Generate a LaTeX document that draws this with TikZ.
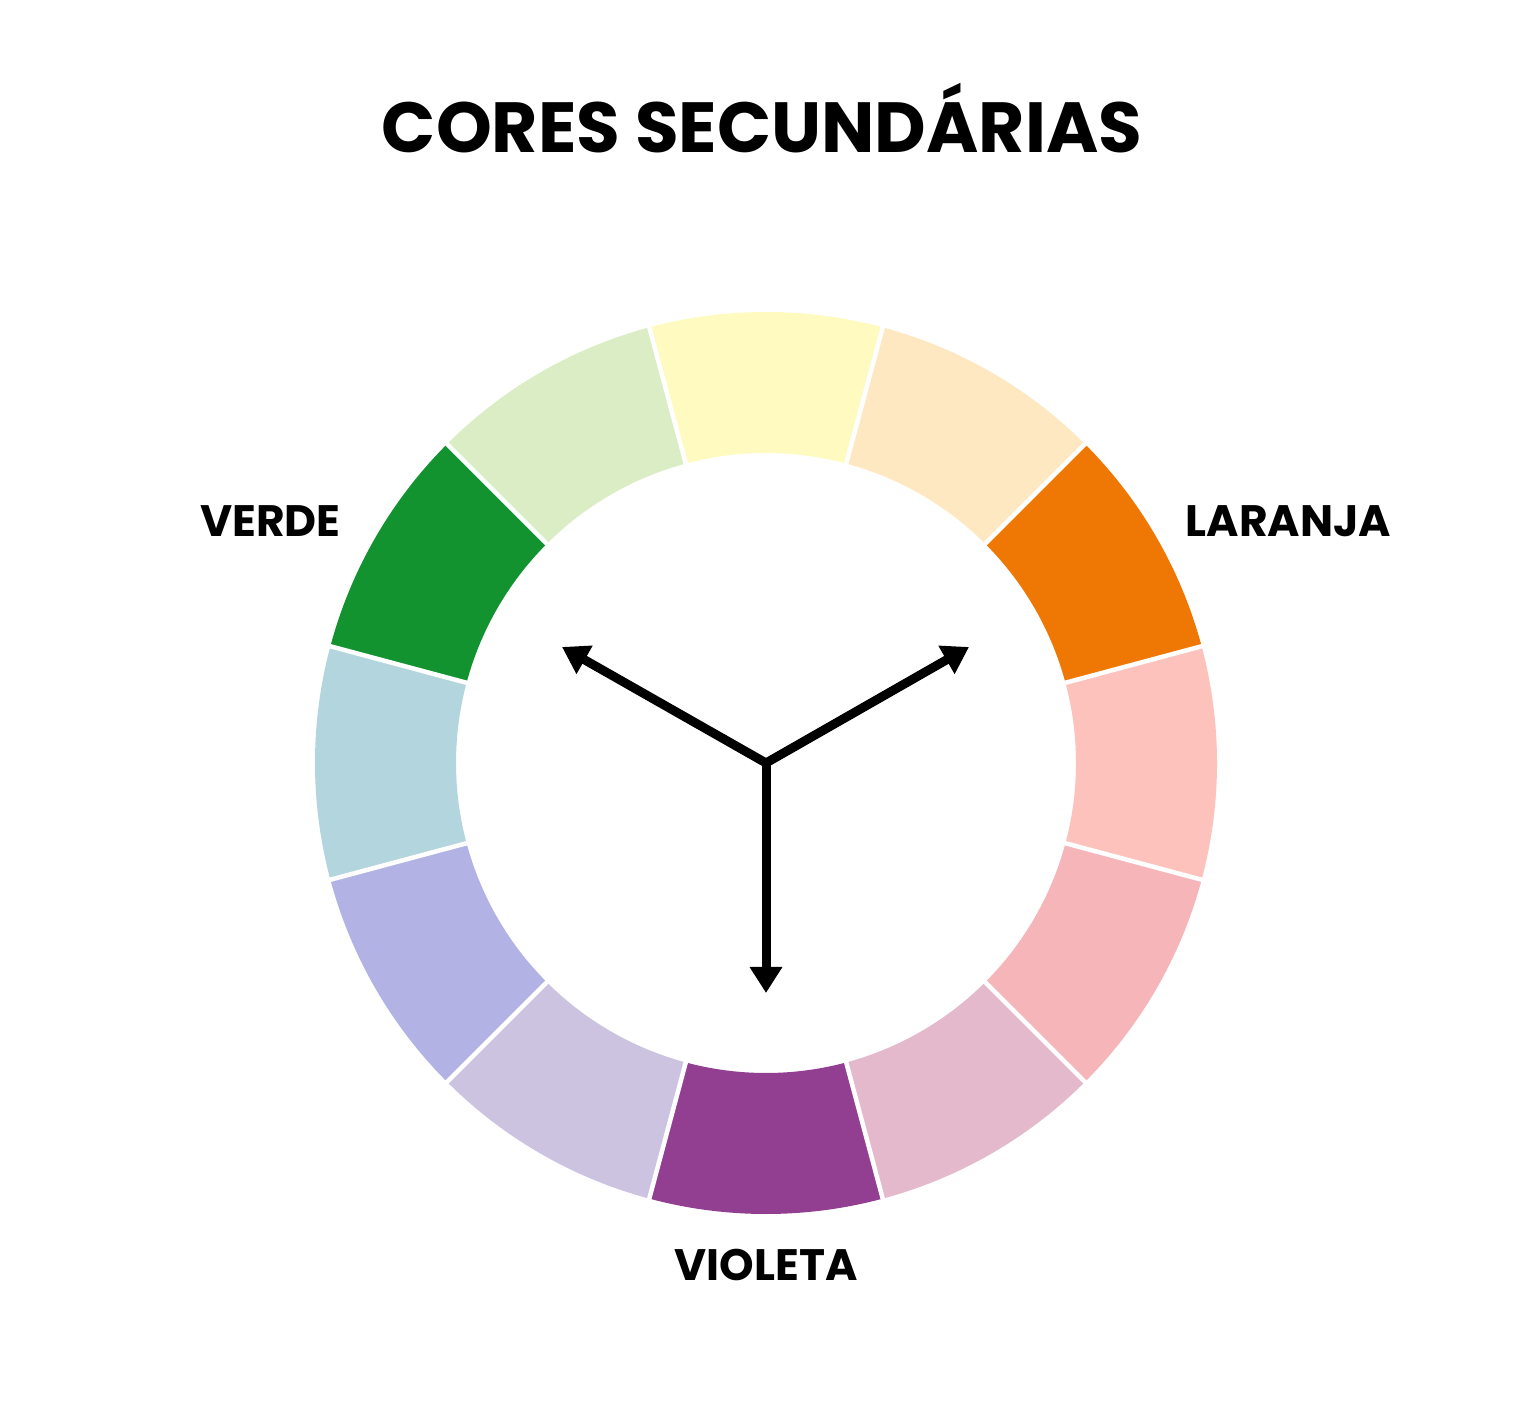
\documentclass[tikz,border=0pt]{standalone}
\usepackage{fontspec}
\setmainfont{Poppins}
\usetikzlibrary{arrows.meta}
\definecolor{cYel}{HTML}{FFFAC0}
\definecolor{cPea}{HTML}{FEE8C2}
\definecolor{cOra}{HTML}{EF7805}
\definecolor{cLpk}{HTML}{FEC2BC}
\definecolor{cPnk}{HTML}{F6B5B9}
\definecolor{cMau}{HTML}{E4B9CB}
\definecolor{cPur}{HTML}{923F91}
\definecolor{cLav}{HTML}{CCC3E1}
\definecolor{cPer}{HTML}{B3B2E5}
\definecolor{cLbl}{HTML}{B3D5DE}
\definecolor{cGrn}{HTML}{129330}
\definecolor{cLgr}{HTML}{DAEDC4}
\begin{document}
\begin{tikzpicture}[x=1pt,y=1pt,
  lbl/.style={font=\bfseries\fontsize{44}{44}\selectfont, inner sep=0pt, anchor=base},
  ttl/.style={font=\bfseries\fontsize{71}{71}\selectfont, inner sep=0pt, anchor=base},
  arr/.style={line width=9pt, -{Triangle[width=31pt,length=26pt]}}]
\useasboundingbox[fill=white] (0,0) rectangle (1536,1411);
\coordinate (C) at (766,648);
\begin{scope}[shift={(C)}]
\foreach \a/\c in {90/cYel,60/cPea,30/cOra,0/cLpk,-30/cPnk,-60/cMau,-90/cPur,-120/cLav,-150/cPer,180/cLbl,150/cGrn,120/cLgr}{
  \fill[\c] (\a-15:451pt) arc[start angle=\a-15, end angle=\a+15, radius=451pt]
    -- (\a+15:310pt) arc[start angle=\a+15, end angle=\a-15, radius=310pt] -- cycle;
}
\foreach \b in {15,45,...,345}{
  \draw[white, line width=4.5pt] (\b:300pt) -- (\b:465pt);
}
\end{scope}
\coordinate (TL) at (562,764);
\coordinate (TR) at (969,764);
\coordinate (TD) at (766,418);
\draw[arr] (C) -- (TL);
\draw[arr] (C) -- (TR);
\draw[arr] (766,650) -- (TD);
\node[ttl] (title) at (762,1258) {CORES SECUNDÁRIAS};
\node[lbl] (verde) at (270.5,874) {VERDE};
\node[lbl] (laranja) at (1288.5,874) {LARANJA};
\node[lbl] (violeta) at (766,131) {VIOLETA};
\end{tikzpicture}
\end{document}
